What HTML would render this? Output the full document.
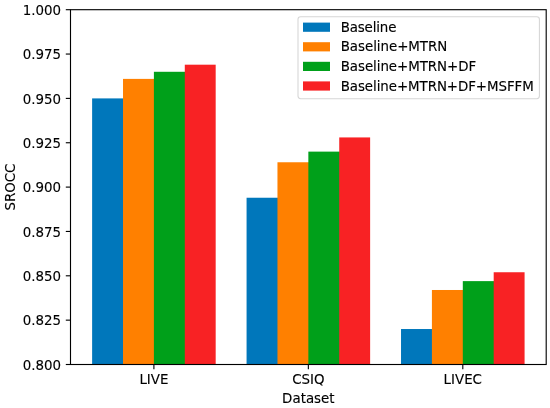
<!DOCTYPE html>
<html lang="en">
<head>
<meta charset="utf-8">
<title>SROCC by Dataset</title>
<style>
html,body{margin:0;padding:0;background:#fff;}
body{width:550px;height:408px;overflow:hidden;}
svg{display:block;}
text{font-family:"DejaVu Sans","Liberation Sans",sans-serif;font-size:13.4px;fill:#000;stroke:#000;stroke-width:0.12px;}
</style>
</head>
<body>
<svg width="550" height="408" viewBox="0 0 550 408">
<rect x="0" y="0" width="550" height="408" fill="#ffffff"/>
<g shape-rendering="auto">
<rect x="92.12" y="98.40" width="31.59" height="266.10" fill="#0077bb"/>
<rect x="123.01" y="78.89" width="31.59" height="285.61" fill="#ff8000"/>
<rect x="153.90" y="71.79" width="31.59" height="292.71" fill="#00a01a"/>
<rect x="184.79" y="64.69" width="30.89" height="299.81" fill="#f82224"/>
<rect x="246.57" y="197.74" width="31.59" height="166.76" fill="#0077bb"/>
<rect x="277.46" y="162.26" width="31.59" height="202.24" fill="#ff8000"/>
<rect x="308.35" y="151.62" width="31.59" height="212.88" fill="#00a01a"/>
<rect x="339.24" y="137.43" width="30.89" height="227.07" fill="#f82224"/>
<rect x="401.02" y="329.02" width="31.59" height="35.48" fill="#0077bb"/>
<rect x="431.91" y="289.99" width="31.59" height="74.51" fill="#ff8000"/>
<rect x="462.80" y="281.12" width="31.59" height="83.38" fill="#00a01a"/>
<rect x="493.69" y="272.25" width="30.89" height="92.25" fill="#f82224"/>
</g>
<rect x="70.50" y="9.70" width="475.70" height="354.80" fill="none" stroke="#000000" stroke-width="1.12"/>
<g stroke="#000000" stroke-width="1.12">
<line x1="65.80" y1="364.50" x2="70.50" y2="364.50"/>
<line x1="65.80" y1="320.15" x2="70.50" y2="320.15"/>
<line x1="65.80" y1="275.80" x2="70.50" y2="275.80"/>
<line x1="65.80" y1="231.45" x2="70.50" y2="231.45"/>
<line x1="65.80" y1="187.10" x2="70.50" y2="187.10"/>
<line x1="65.80" y1="142.75" x2="70.50" y2="142.75"/>
<line x1="65.80" y1="98.40" x2="70.50" y2="98.40"/>
<line x1="65.80" y1="54.05" x2="70.50" y2="54.05"/>
<line x1="65.80" y1="9.70" x2="70.50" y2="9.70"/>
<line x1="153.90" y1="364.50" x2="153.90" y2="369.20"/>
<line x1="308.35" y1="364.50" x2="308.35" y2="369.20"/>
<line x1="462.80" y1="364.50" x2="462.80" y2="369.20"/>
</g>
<g text-anchor="end">
<text x="61.10" y="369.60">0.800</text>
<text x="61.10" y="325.25">0.825</text>
<text x="61.10" y="280.90">0.850</text>
<text x="61.10" y="236.55">0.875</text>
<text x="61.10" y="192.20">0.900</text>
<text x="61.10" y="147.85">0.925</text>
<text x="61.10" y="103.50">0.950</text>
<text x="61.10" y="59.15">0.975</text>
<text x="61.10" y="14.80">1.000</text>
</g>
<g text-anchor="middle">
<text x="153.90" y="384.30">LIVE</text>
<text x="308.35" y="384.30">CSIQ</text>
<text x="462.80" y="384.30">LIVEC</text>
<text x="308.35" y="402.60">Dataset</text>
<text transform="translate(15.10 187.10) rotate(-90)">SROCC</text>
</g>
<rect x="298.00" y="16.70" width="241.40" height="82.00" rx="2.6" ry="2.6" fill="#ffffff" fill-opacity="0.8" stroke="#d6d6d6" stroke-width="1.07"/>
<rect x="303.00" y="22.60" width="27.00" height="9.20" fill="#0077bb"/>
<text x="340.70" y="31.85" letter-spacing="-0.15">Baseline</text>
<rect x="303.00" y="42.20" width="27.00" height="9.20" fill="#ff8000"/>
<text x="340.70" y="51.45" letter-spacing="-0.04">Baseline+MTRN</text>
<rect x="303.00" y="61.80" width="27.00" height="9.20" fill="#00a01a"/>
<text x="340.70" y="71.05" letter-spacing="-0.05">Baseline+MTRN+DF</text>
<rect x="303.00" y="81.40" width="27.00" height="9.20" fill="#f82224"/>
<text x="340.70" y="90.65" letter-spacing="-0.07">Baseline+MTRN+DF+MSFFM</text>
</svg>
</body>
</html>
